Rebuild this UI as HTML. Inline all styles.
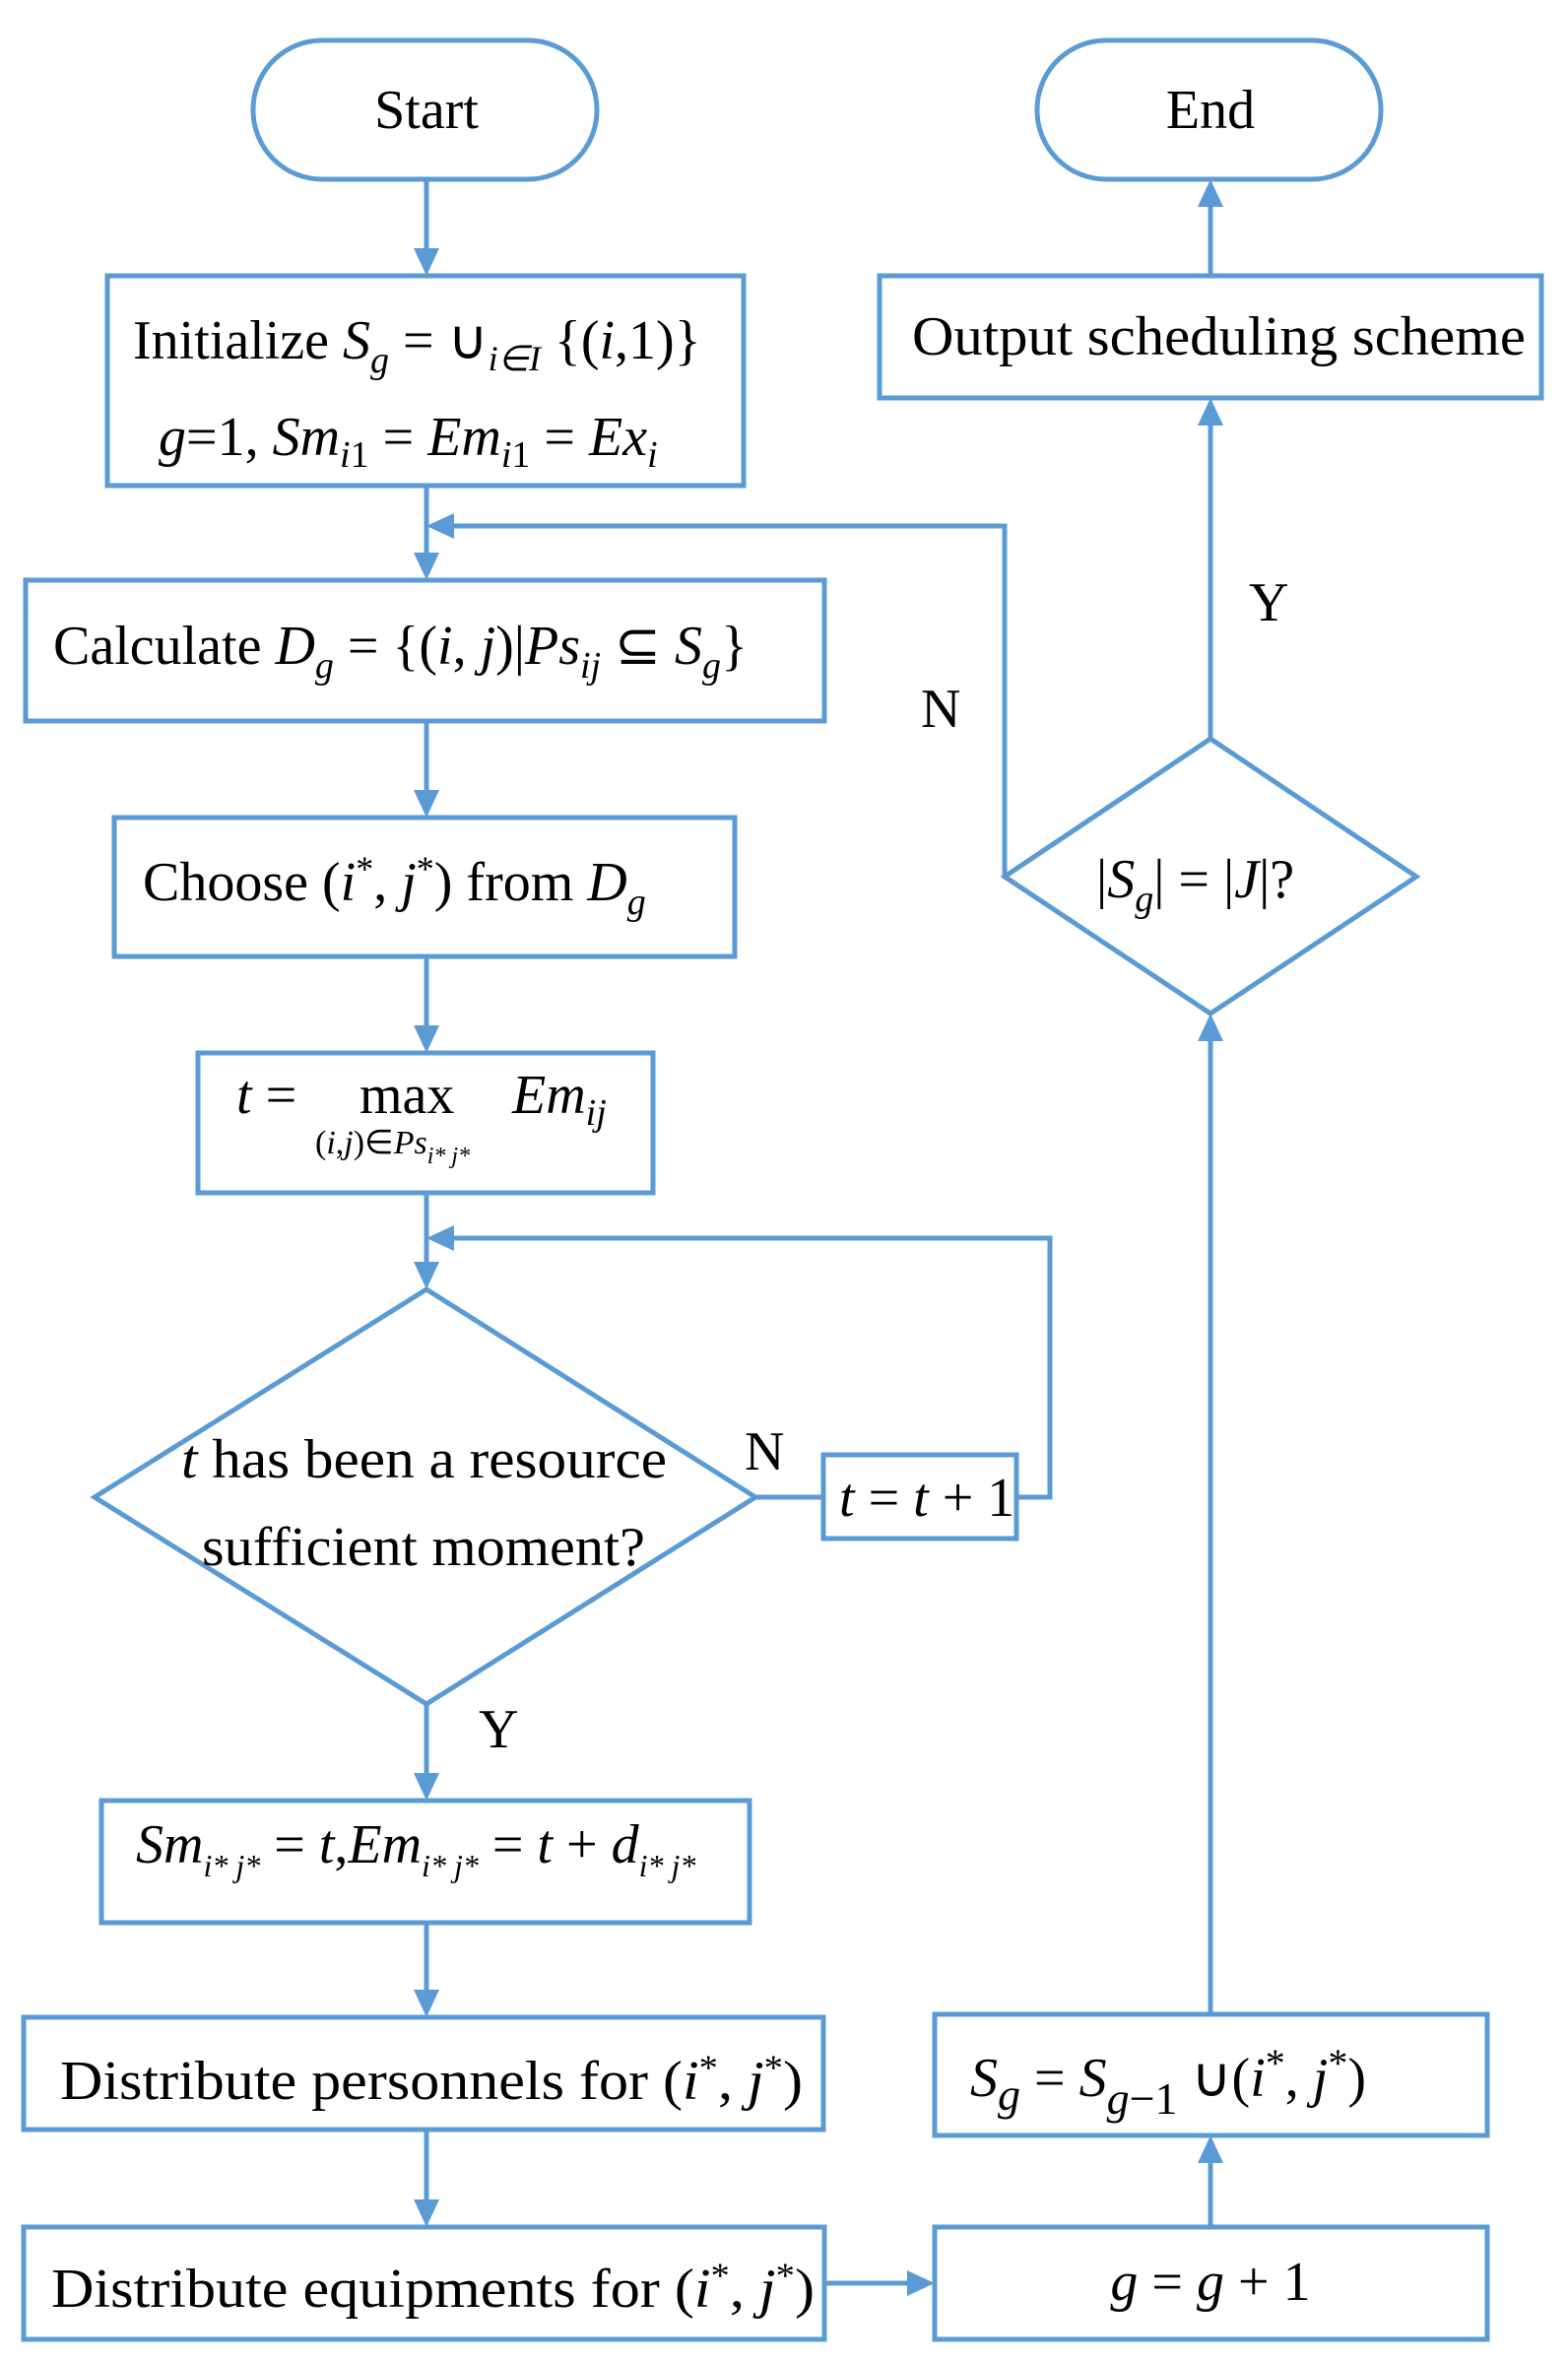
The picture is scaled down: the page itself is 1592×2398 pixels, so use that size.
<!DOCTYPE html>
<html><head><meta charset="utf-8"><style>
html,body{margin:0;padding:0;background:#fff}
svg{display:block}
text{font-family:"Liberation Serif",serif;fill:#000}
.i{font-style:italic}
</style></head><body>
<svg width="1592" height="2398" viewBox="0 0 1592 2398" xmlns="http://www.w3.org/2000/svg">
<defs>
<marker id="a" markerWidth="10" markerHeight="10" refX="9" refY="5" orient="auto" markerUnits="userSpaceOnUse" viewBox="0 0 10 10">
</marker>
</defs>
<g fill="none" stroke="#5b9bd5" stroke-width="5">
<rect x="257" y="41" width="349" height="141" rx="70"/>
<rect x="1053" y="41" width="349" height="141" rx="70"/>
<rect x="109" y="280" width="646" height="213"/>
<rect x="893" y="280" width="672" height="124"/>
<rect x="26" y="589" width="811" height="143"/>
<rect x="116" y="830" width="630" height="141"/>
<rect x="201" y="1069" width="462" height="142"/>
<polygon points="433,1309 767,1520 433,1730 96,1520"/>
<rect x="836" y="1477" width="196" height="85"/>
<rect x="103" y="1828" width="658" height="124"/>
<rect x="24" y="2048" width="812" height="114"/>
<rect x="24" y="2261" width="813" height="114"/>
<rect x="949" y="2261" width="561" height="114"/>
<rect x="949" y="2045" width="561" height="123"/>
<polygon points="1229,750 1438,890 1229,1029 1020,890"/>
<!-- connectors -->
<path d="M433 182V255M433 493V564M433 732V805M433 971V1044M433 1211V1284M433 1730V1803M433 1952V2023M433 2162V2236"/>
<path d="M767 1520H836M1032 1520H1066V1257H458"/>
<path d="M1020 890V534H458"/>
<path d="M837 2318H924M1229 2261V2193M1229 2045V1054M1229 750V429M1229 280V207"/>
</g>
<g fill="#5b9bd5">
<polygon points="420,252 446,252 433,280"/>
<polygon points="420,561 446,561 433,589"/>
<polygon points="420,802 446,802 433,830"/>
<polygon points="420,1041 446,1041 433,1069"/>
<polygon points="420,1281 446,1281 433,1309"/>
<polygon points="420,1800 446,1800 433,1828"/>
<polygon points="420,2020 446,2020 433,2048"/>
<polygon points="420,2233 446,2233 433,2261"/>
<polygon points="461,521 461,547 433,534"/>
<polygon points="461,1244 461,1270 433,1257"/>
<polygon points="921,2305 921,2331 949,2318"/>
<polygon points="1216,2196 1242,2196 1229,2168"/>
<polygon points="1216,1057 1242,1057 1229,1029"/>
<polygon points="1216,432 1242,432 1229,404"/>
<polygon points="1216,210 1242,210 1229,182"/>
</g>
<g font-size="56">
<text x="433" y="130" text-anchor="middle">Start</text>
<text x="1229" y="130" text-anchor="middle">End</text>
<text x="135" y="364">Initialize <tspan class="i">S</tspan><tspan class="i" font-size="38" dy="14">g</tspan><tspan dy="-14"> = ∪</tspan><tspan class="i" font-size="36" dy="12">i∈I</tspan><tspan dy="-12"> {(</tspan><tspan class="i">i</tspan>,1)}</text>
<text x="161" y="462"><tspan class="i">g</tspan>=1, <tspan class="i">Sm</tspan><tspan class="i" font-size="38" dy="12">i</tspan><tspan font-size="38">1</tspan><tspan dy="-12"> = </tspan><tspan class="i">Em</tspan><tspan class="i" font-size="38" dy="12">i</tspan><tspan font-size="38">1</tspan><tspan dy="-12"> = </tspan><tspan class="i">Ex</tspan><tspan class="i" font-size="38" dy="12">i</tspan></text>
<text x="926" y="360" textLength="623" lengthAdjust="spacingAndGlyphs">Output scheduling scheme</text>
<text x="54" y="674">Calculate <tspan class="i">D</tspan><tspan class="i" font-size="38" dy="14">g</tspan><tspan dy="-14"> = {(</tspan><tspan class="i">i</tspan>, <tspan class="i">j</tspan>)|<tspan class="i">Ps</tspan><tspan class="i" font-size="38" dy="14">ij</tspan><tspan dy="-14"> ⊆ </tspan><tspan class="i">S</tspan><tspan class="i" font-size="38" dy="14">g</tspan><tspan dy="-14">}</tspan></text>
<text x="145" y="914">Choose (<tspan class="i">i</tspan><tspan font-size="36" dy="-20">*</tspan><tspan dy="20">, </tspan><tspan class="i">j</tspan><tspan font-size="36" dy="-20">*</tspan><tspan dy="20">) from </tspan><tspan class="i">D</tspan><tspan class="i" font-size="38" dy="14">g</tspan></text>
<text x="240" y="1130"><tspan class="i">t</tspan> = </text>
<text x="365" y="1130">max</text>
<text x="520" y="1130" class="i">Em<tspan font-size="38" dy="12">ij</tspan></text>
<text x="320" y="1171" font-size="34">(<tspan class="i">i</tspan>,<tspan class="i">j</tspan>)∈<tspan class="i">Ps</tspan><tspan class="i" font-size="24" dy="10">i* j*</tspan></text>
<text x="184" y="1500" textLength="493" lengthAdjust="spacingAndGlyphs"><tspan class="i">t</tspan> has been a resource</text>
<text x="205" y="1589" textLength="450" lengthAdjust="spacingAndGlyphs">sufficient moment?</text>
<text x="852" y="1539"><tspan class="i">t</tspan> = <tspan class="i">t</tspan> + 1</text>
<text x="138" y="1891"><tspan class="i">Sm</tspan><tspan class="i" font-size="32" dy="14">i* j*</tspan><tspan dy="-14"> = </tspan><tspan class="i">t</tspan>,<tspan class="i">Em</tspan><tspan class="i" font-size="32" dy="14">i* j*</tspan><tspan dy="-14"> = </tspan><tspan class="i">t</tspan> + <tspan class="i">d</tspan><tspan class="i" font-size="32" dy="14">i* j*</tspan></text>
<text x="61" y="2131" textLength="754" lengthAdjust="spacingAndGlyphs">Distribute personnels for (<tspan class="i">i</tspan><tspan font-size="36" dy="-20">*</tspan><tspan dy="20">, </tspan><tspan class="i">j</tspan><tspan font-size="36" dy="-20">*</tspan><tspan dy="20">)</tspan></text>
<text x="52" y="2342" textLength="775" lengthAdjust="spacingAndGlyphs">Distribute equipments for (<tspan class="i">i</tspan><tspan font-size="36" dy="-20">*</tspan><tspan dy="20">, </tspan><tspan class="i">j</tspan><tspan font-size="36" dy="-20">*</tspan><tspan dy="20">)</tspan></text>
<text x="1229" y="2335" text-anchor="middle"><tspan class="i">g</tspan> = <tspan class="i">g</tspan> + 1</text>
<text x="985" y="2128"><tspan class="i">S</tspan><tspan class="i" font-size="46" dy="14">g</tspan><tspan dy="-14"> = </tspan><tspan class="i">S</tspan><tspan class="i" font-size="46" dy="18">g</tspan><tspan font-size="46">−1</tspan><tspan dy="-18"> ∪(</tspan><tspan class="i">i</tspan><tspan font-size="40" dy="-20">*</tspan><tspan dy="20">, </tspan><tspan class="i">j</tspan><tspan font-size="40" dy="-20">*</tspan><tspan dy="20">)</tspan></text>
<text x="1113" y="911">|<tspan class="i">S</tspan><tspan class="i" font-size="38" dy="14">g</tspan><tspan dy="-14">| = |</tspan><tspan class="i">J</tspan>|?</text>
<text x="935" y="738">N</text>
<text x="1268" y="630">Y</text>
<text x="756" y="1492">N</text>
<text x="486" y="1774">Y</text>
</g>
</svg>
</body></html>
